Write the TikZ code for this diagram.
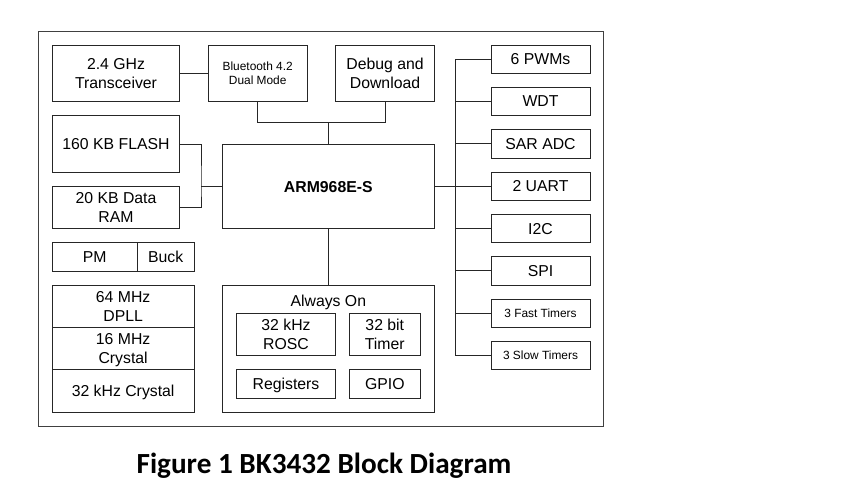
\documentclass[tikz,border=0pt]{standalone}
\usepackage{fontspec}
\setmainfont{Liberation Sans}
\newfontfamily\capfont{Carlito}
\begin{document}
\begin{tikzpicture}[x=1pt,y=-1pt,
  blk/.style={draw=black!85,line width=0.95pt,inner sep=0pt,outer sep=0pt,align=center,text depth=0pt,font=\fontsize{15.8}{18.7}\selectfont},
  sblk/.style={blk,font=\fontsize{11.9}{14.3}\selectfont},
  wire/.style={draw=black!85,line width=0.95pt}]
\useasboundingbox (0,0) rectangle (859,492);
\fill[white] (0,0) rectangle (859,492);
\node[draw=black!75,line width=0.95pt,minimum width=565pt,minimum height=395pt,inner sep=0pt] (frame) at (320.8,228.5) {};
% top row
\node[blk,minimum width=127.4pt,minimum height=56.3pt] (trx) at (116,73.2) {2.4 GHz\\Transceiver};
\node[sblk,minimum width=98.7pt,minimum height=56.3pt] (bt) at (257.7,73.2) {Bluetooth 4.2\\Dual Mode};
\node[blk,minimum width=98.6pt,minimum height=56.3pt] (dbg) at (385,73.2) {Debug and\\Download};
% memory
\node[blk,minimum width=127.4pt,minimum height=56.6pt] (flash) at (116,144) {160 KB FLASH};
\node[blk,minimum width=127.4pt,minimum height=42.4pt] (ram) at (116,207.5) {20 KB Data\\RAM};
% cpu
\node[blk,minimum width=212pt,minimum height=84.4pt,font=\fontsize{15.8}{18.7}\selectfont\bfseries] (arm) at (328.3,186.5) {ARM968E-S};
% power
\node[blk,minimum width=85pt,minimum height=28.6pt] (pm) at (94.8,257) {PM};
\node[blk,minimum width=56.7pt,minimum height=28.6pt] (buck) at (165.65,257) {Buck};
% clocks
\node[blk,minimum width=141.7pt,minimum height=42.4pt] (dpll) at (123.15,306.5) {64 MHz\\DPLL};
\node[blk,minimum width=141.7pt,minimum height=42pt] (xtal) at (123.15,348.7) {16 MHz\\Crystal};
\node[blk,minimum width=141.7pt,minimum height=42.3pt] (xtal32) at (123.15,390.85) {32 kHz Crystal};
% always on
\node[blk,minimum width=212pt,minimum height=126.7pt] (ao) at (328.3,348.65) {};
\node[inner sep=0pt,text depth=0pt,font=\fontsize{15.8}{18.7}\selectfont] (aolbl) at (328.3,300.7) {Always On};
\node[blk,minimum width=98.6pt,minimum height=42.4pt] (rosc) at (286,334.5) {32 kHz\\ROSC};
\node[blk,minimum width=71pt,minimum height=42.4pt] (tmr) at (384.8,334.5) {32 bit\\Timer};
\node[blk,minimum width=98.6pt,minimum height=28.3pt] (regs) at (286,383.85) {Registers};
\node[blk,minimum width=71pt,minimum height=28.3pt] (gpio) at (384.8,383.85) {GPIO};
% peripherals
\node[blk,minimum width=99pt,minimum height=28.3pt] (pwm) at (540.5,59.2) {6 PWMs};
\node[blk,minimum width=99pt,minimum height=28.3pt] (wdt) at (540.5,101.5) {WDT};
\node[blk,minimum width=99pt,minimum height=28.3pt] (adc) at (540.5,143.85) {SAR ADC};
\node[blk,minimum width=99pt,minimum height=28.3pt] (uart) at (540.5,186.15) {2 UART};
\node[blk,minimum width=99pt,minimum height=28.3pt] (i2c) at (540.5,228.5) {I2C};
\node[blk,minimum width=99pt,minimum height=28.3pt] (spi) at (540.5,270.85) {SPI};
\node[sblk,minimum width=99pt,minimum height=28.3pt] (fast) at (540.5,313.15) {3 Fast Timers};
\node[sblk,minimum width=99pt,minimum height=28.3pt] (slow) at (540.5,355.5) {3 Slow Timers};
% connectors
\coordinate (tj) at (328.3,122.3);
\coordinate (lbus) at (201,186.5);
\coordinate (rbus) at (455.7,186.5);
\draw[wire] (trx.east) -- (bt.west);
\draw[wire] (bt.south) |- (dbg.south |- tj) -- (dbg.south);
\draw[wire] (tj) -- (arm.north);
\draw[wire] (flash.east) -| (lbus) |- (ram.east);
\draw[wire] (lbus) -- (arm.west);
\draw[wire] (arm.east) -- (rbus);
\draw[wire] (rbus |- pwm.west) -- (rbus |- slow.west);
\foreach \n in {pwm,wdt,adc,uart,i2c,spi,fast,slow} {\draw[wire] (rbus |- \n.west) -- (\n.west);}
\draw[wire] (arm.south) -- (ao.north);
% caption
\node[inner sep=0pt,anchor=base,font=\capfont\bfseries\fontsize{29.2}{34}\selectfont] (cap) at (324,473.3) {Figure 1 BK3432 Block Diagram};
\end{tikzpicture}
\end{document}
